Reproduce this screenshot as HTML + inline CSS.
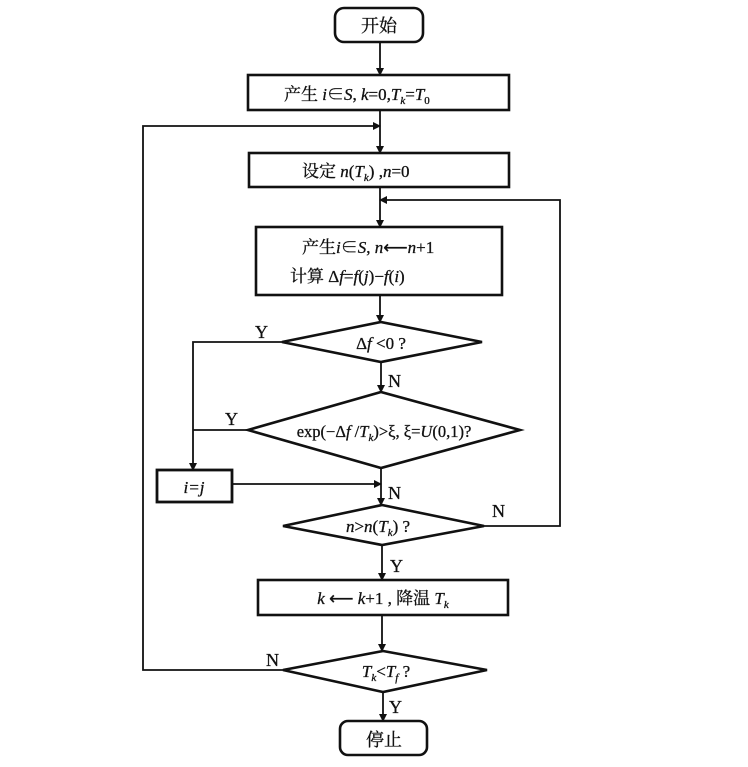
<!DOCTYPE html>
<html><head><meta charset="utf-8"><style>
html,body{margin:0;padding:0;background:#fff;}
svg text{font-family:"Liberation Serif","Noto Serif CJK SC","Noto Sans CJK SC",serif;fill:#111;}
.i{font-style:italic;}
</style></head><body>
<svg width="748" height="762" viewBox="0 0 748 762" xmlns="http://www.w3.org/2000/svg">
<defs><marker id="a" markerWidth="8" markerHeight="10" refX="7" refY="5" orient="auto" markerUnits="userSpaceOnUse"><path d="M0,1 L8,5 L0,9 z" fill="#111"/></marker></defs>
<g stroke="#111" stroke-width="1.8" fill="none">
<rect x="335" y="8" width="88" height="34" rx="9" stroke-width="2.6"/>
<rect x="248" y="75" width="261" height="35" stroke-width="2.6"/>
<rect x="249" y="153" width="260" height="34" stroke-width="2.6"/>
<rect x="256" y="227" width="246" height="68" stroke-width="2.6"/>
<polygon points="381,322 482,342 381,362 282,342" stroke-width="2.6"/>
<polygon points="381,392 520,430 381,468 248,430" stroke-width="2.6"/>
<rect x="157" y="470" width="75" height="32" stroke-width="2.8"/>
<polygon points="382,505 484,526 382,545 283,526" stroke-width="2.6"/>
<rect x="258" y="580" width="250" height="35" stroke-width="2.6"/>
<polygon points="383,651 487,670 383,692 283,670" stroke-width="2.6"/>
<rect x="340" y="721" width="87" height="34" rx="8" stroke-width="2.6"/>
<line x1="380" y1="42" x2="380" y2="75" marker-end="url(#a)"/>
<line x1="380" y1="110" x2="380" y2="153" marker-end="url(#a)"/>
<line x1="380" y1="187" x2="380" y2="227" marker-end="url(#a)"/>
<line x1="380" y1="295" x2="380" y2="322" marker-end="url(#a)"/>
<line x1="381" y1="362" x2="381" y2="392" marker-end="url(#a)"/>
<line x1="381" y1="468" x2="381" y2="505" marker-end="url(#a)"/>
<line x1="382" y1="545" x2="382" y2="580" marker-end="url(#a)"/>
<line x1="382" y1="615" x2="382" y2="651" marker-end="url(#a)"/>
<line x1="383" y1="692" x2="383" y2="721" marker-end="url(#a)"/>
<polyline points="282,342 193,342 193,470" marker-end="url(#a)"/>
<line x1="248" y1="430" x2="193" y2="430"/>
<line x1="232" y1="484" x2="381" y2="484" marker-end="url(#a)"/>
<polyline points="484,526 560,526 560,200 380,200" marker-end="url(#a)"/>
<polyline points="283,670 143,670 143,126 380,126" marker-end="url(#a)"/>
</g>
<g font-size="18" stroke="#111" stroke-width="0.3">
<text x="379" y="32" text-anchor="middle" font-family="Noto Sans CJK SC">开始</text>
<text x="284" y="100" font-size="17">产生 <tspan class="i">i</tspan>∈<tspan class="i">S</tspan>, <tspan class="i">k</tspan>=0,<tspan class="i">T<tspan font-size="11" dy="4">k</tspan></tspan><tspan dy="-4">=</tspan><tspan class="i">T</tspan><tspan font-size="11" dy="4">0</tspan></text>
<text x="302" y="177" font-size="17">设定 <tspan class="i">n</tspan>(<tspan class="i">T</tspan><tspan font-size="11" dy="4" class="i">k</tspan><tspan dy="-4">) ,</tspan><tspan class="i">n</tspan>=0</text>
<text x="302" y="253" font-size="17">产生<tspan class="i">i</tspan>∈<tspan class="i">S</tspan>, <tspan class="i">n</tspan>⟵<tspan class="i">n</tspan>+1</text>
<text x="290" y="282" font-size="17">计算 Δ<tspan class="i">f</tspan>=<tspan class="i">f</tspan>(<tspan class="i">j</tspan>)−<tspan class="i">f</tspan>(<tspan class="i">i</tspan>)</text>
<text x="381" y="349" text-anchor="middle" font-size="17">Δ<tspan class="i">f</tspan> &lt;0 ?</text>
<text x="384" y="437" text-anchor="middle" font-size="16.5">exp(−Δ<tspan class="i">f</tspan> /<tspan class="i">T</tspan><tspan font-size="11" dy="4" class="i">k</tspan><tspan dy="-4">)&gt;ξ, ξ=</tspan><tspan class="i">U</tspan>(0,1)?</text>
<text x="194" y="493" text-anchor="middle" font-size="17" class="i">i=j</text>
<text x="378" y="532" text-anchor="middle" font-size="17"><tspan class="i">n</tspan>&gt;<tspan class="i">n</tspan>(<tspan class="i">T</tspan><tspan font-size="11" dy="4" class="i">k</tspan><tspan dy="-4">) ?</tspan></text>
<text x="383" y="604" text-anchor="middle" font-size="17"><tspan class="i">k</tspan> ⟵ <tspan class="i">k</tspan>+1 , 降温 <tspan class="i">T</tspan><tspan font-size="11" dy="4" class="i">k</tspan></text>
<text x="386" y="677" text-anchor="middle" font-size="17"><tspan class="i">T</tspan><tspan font-size="11" dy="4" class="i">k</tspan><tspan dy="-4">&lt;</tspan><tspan class="i">T</tspan><tspan font-size="11" dy="4" class="i">f</tspan><tspan dy="-4"> ?</tspan></text>
<text x="384" y="746" text-anchor="middle" font-family="Noto Sans CJK SC">停止</text>
<text x="255" y="338">Y</text>
<text x="388" y="387">N</text>
<text x="225" y="425">Y</text>
<text x="388" y="499">N</text>
<text x="492" y="517">N</text>
<text x="390" y="572">Y</text>
<text x="266" y="666">N</text>
<text x="389" y="713">Y</text>
</g>
</svg>
</body></html>
